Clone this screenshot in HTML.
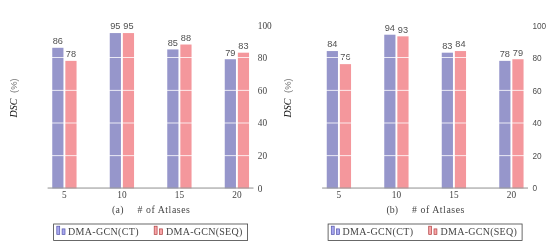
<!DOCTYPE html>
<html><head><meta charset="utf-8"><title>DSC vs number of atlases</title>
<style>
html,body{margin:0;padding:0;background:#fff;}
svg{display:block;}
text{font-family:"Liberation Serif",serif;}
.bl{font-family:"Liberation Sans",sans-serif;font-size:9.9px;fill:#505050;}
.tk{font-size:9.3px;fill:#444;}
.tks{font-family:"Liberation Sans",sans-serif;font-size:9.5px;fill:#505050;}
.cap{font-size:9.8px;fill:#444;}
.lg{font-size:10px;fill:#444;}
.yl{font-size:10px;}
.cal{font-style:italic;fill:#111;}
.pc{font-family:"Liberation Sans",sans-serif;fill:#777;font-size:9.4px;}
</style></head><body>
<svg width="550" height="248" viewBox="0 0 550 248">
<rect width="550" height="248" fill="#fff"/>
<rect x="52.25" y="47.79" width="11.2" height="140.61" fill="#9696CB"/>
<text class="bl" transform="translate(57.85,44.09) scale(0.93,1.0)" text-anchor="middle">86</text>
<rect x="65.35" y="60.87" width="11.2" height="127.53" fill="#F4979C"/>
<text class="bl" transform="translate(70.95,57.17) scale(0.93,1.0)" text-anchor="middle">78</text>
<rect x="109.75" y="33.08" width="11.2" height="155.32" fill="#9696CB"/>
<text class="bl" transform="translate(115.35,29.38) scale(0.93,1.0)" text-anchor="middle">95</text>
<rect x="122.85" y="33.08" width="11.2" height="155.32" fill="#F4979C"/>
<text class="bl" transform="translate(128.45,29.38) scale(0.93,1.0)" text-anchor="middle">95</text>
<rect x="167.25" y="49.43" width="11.2" height="138.97" fill="#9696CB"/>
<text class="bl" transform="translate(172.85,45.73) scale(0.93,1.0)" text-anchor="middle">85</text>
<rect x="180.35" y="44.52" width="11.2" height="143.88" fill="#F4979C"/>
<text class="bl" transform="translate(185.95,40.82) scale(0.93,1.0)" text-anchor="middle">88</text>
<rect x="224.75" y="59.24" width="11.2" height="129.16" fill="#9696CB"/>
<text class="bl" transform="translate(230.35,55.54) scale(0.93,1.0)" text-anchor="middle">79</text>
<rect x="237.85" y="52.69" width="11.2" height="135.71" fill="#F4979C"/>
<text class="bl" transform="translate(243.45,48.99) scale(0.93,1.0)" text-anchor="middle">83</text>
<rect x="47.60" y="155.30" width="206" height="0.8" fill="#fff"/>
<rect x="47.60" y="122.60" width="206" height="0.8" fill="#fff"/>
<rect x="47.60" y="89.90" width="206" height="0.8" fill="#fff"/>
<rect x="47.60" y="57.20" width="206" height="0.8" fill="#fff"/>
<rect x="47.60" y="187.50" width="205.9" height="1.1" fill="#9a9a9a"/>
<text class="tk" x="257.80" y="191.50">0</text>
<text class="tk" x="257.80" y="158.98">20</text>
<text class="tk" x="257.80" y="126.46">40</text>
<text class="tk" x="257.80" y="93.94">60</text>
<text class="tk" x="257.80" y="61.42">80</text>
<text class="tk" x="257.80" y="28.90">100</text>
<text class="tk" x="64.40" y="198.3" text-anchor="middle">5</text>
<text class="tk" x="121.90" y="198.3" text-anchor="middle">10</text>
<text class="tk" x="179.40" y="198.3" text-anchor="middle">15</text>
<text class="tk" x="236.90" y="198.3" text-anchor="middle">20</text>
<g transform="translate(16.60,117.4) rotate(-90)"><text class="yl" x="0" y="0"><tspan class="cal">DSC</tspan><tspan class="pc" dx="3"> (%)</tspan></text></g>
<text class="cap" x="112.00" y="213.3" textLength="11.5" lengthAdjust="spacing">(a)</text>
<text class="cap" x="137.50" y="213.3" textLength="52.4" lengthAdjust="spacing"># of Atlases</text>
<rect x="53.60" y="224.0" width="194.0" height="16.5" fill="#fff" stroke="#444" stroke-width="0.8"/>
<rect x="56.80" y="226.2" width="2.9" height="8.2" fill="#A9A9F0" stroke="#5555AA" stroke-width="0.7"/>
<rect x="62.10" y="228.9" width="2.9" height="5.5" fill="#A9A9F0" stroke="#5555AA" stroke-width="0.7"/>
<text class="lg" x="68.00" y="235.4" textLength="70.5" lengthAdjust="spacing">DMA-GCN(CT)</text>
<rect x="154.20" y="226.2" width="2.9" height="8.2" fill="#F8A5A8" stroke="#B04040" stroke-width="0.7"/>
<rect x="159.50" y="228.9" width="2.9" height="5.5" fill="#F8A5A8" stroke="#B04040" stroke-width="0.7"/>
<text class="lg" x="166.00" y="235.4" textLength="76.3" lengthAdjust="spacing">DMA-GCN(SEQ)</text>
<rect x="326.75" y="51.06" width="11.2" height="137.34" fill="#9696CB"/>
<text class="bl" transform="translate(332.35,47.36) scale(0.93,1.0)" text-anchor="middle">84</text>
<rect x="339.85" y="64.14" width="11.2" height="124.26" fill="#F4979C"/>
<text class="bl" transform="translate(345.45,60.44) scale(0.93,1.0)" text-anchor="middle">76</text>
<rect x="384.25" y="34.71" width="11.2" height="153.69" fill="#9696CB"/>
<text class="bl" transform="translate(389.85,31.01) scale(0.93,1.0)" text-anchor="middle">94</text>
<rect x="397.35" y="36.34" width="11.2" height="152.06" fill="#F4979C"/>
<text class="bl" transform="translate(402.95,32.64) scale(0.93,1.0)" text-anchor="middle">93</text>
<rect x="441.75" y="52.69" width="11.2" height="135.71" fill="#9696CB"/>
<text class="bl" transform="translate(447.35,48.99) scale(0.93,1.0)" text-anchor="middle">83</text>
<rect x="454.85" y="51.06" width="11.2" height="137.34" fill="#F4979C"/>
<text class="bl" transform="translate(460.45,47.36) scale(0.93,1.0)" text-anchor="middle">84</text>
<rect x="499.25" y="60.87" width="11.2" height="127.53" fill="#9696CB"/>
<text class="bl" transform="translate(504.85,57.17) scale(0.93,1.0)" text-anchor="middle">78</text>
<rect x="512.35" y="59.24" width="11.2" height="129.16" fill="#F4979C"/>
<text class="bl" transform="translate(517.95,55.54) scale(0.93,1.0)" text-anchor="middle">79</text>
<rect x="322.10" y="155.30" width="206" height="0.8" fill="#fff"/>
<rect x="322.10" y="122.60" width="206" height="0.8" fill="#fff"/>
<rect x="322.10" y="89.90" width="206" height="0.8" fill="#fff"/>
<rect x="322.10" y="57.20" width="206" height="0.8" fill="#fff"/>
<rect x="322.10" y="187.50" width="205.9" height="1.1" fill="#9a9a9a"/>
<text class="tks" transform="translate(532.40,191.40) scale(0.87,1)">0</text>
<text class="tks" transform="translate(532.40,158.88) scale(0.87,1)">20</text>
<text class="tks" transform="translate(532.40,126.36) scale(0.87,1)">40</text>
<text class="tks" transform="translate(532.40,93.84) scale(0.87,1)">60</text>
<text class="tks" transform="translate(532.40,61.32) scale(0.87,1)">80</text>
<text class="tks" transform="translate(532.40,28.80) scale(0.87,1)">100</text>
<text class="tk" x="338.90" y="198.3" text-anchor="middle">5</text>
<text class="tk" x="396.40" y="198.3" text-anchor="middle">10</text>
<text class="tk" x="453.90" y="198.3" text-anchor="middle">15</text>
<text class="tk" x="511.40" y="198.3" text-anchor="middle">20</text>
<g transform="translate(291.10,117.4) rotate(-90)"><text class="yl" x="0" y="0"><tspan class="cal">DSC</tspan><tspan class="pc" dx="3"> (%)</tspan></text></g>
<text class="cap" x="386.50" y="213.3" textLength="11.5" lengthAdjust="spacing">(b)</text>
<text class="cap" x="412.00" y="213.3" textLength="52.4" lengthAdjust="spacing"># of Atlases</text>
<rect x="328.10" y="224.0" width="194.0" height="16.5" fill="#fff" stroke="#444" stroke-width="0.8"/>
<rect x="331.30" y="226.2" width="2.9" height="8.2" fill="#A9A9F0" stroke="#5555AA" stroke-width="0.7"/>
<rect x="336.60" y="228.9" width="2.9" height="5.5" fill="#A9A9F0" stroke="#5555AA" stroke-width="0.7"/>
<text class="lg" x="342.50" y="235.4" textLength="70.5" lengthAdjust="spacing">DMA-GCN(CT)</text>
<rect x="428.70" y="226.2" width="2.9" height="8.2" fill="#F8A5A8" stroke="#B04040" stroke-width="0.7"/>
<rect x="434.00" y="228.9" width="2.9" height="5.5" fill="#F8A5A8" stroke="#B04040" stroke-width="0.7"/>
<text class="lg" x="440.50" y="235.4" textLength="76.3" lengthAdjust="spacing">DMA-GCN(SEQ)</text>
</svg>
</body></html>
